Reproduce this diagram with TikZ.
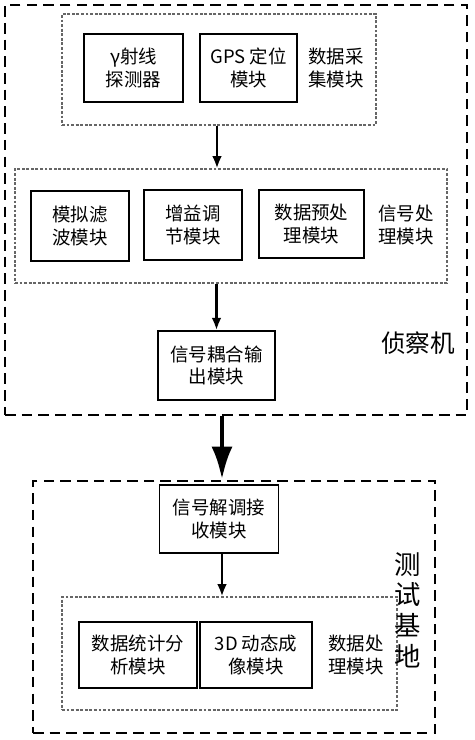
\documentclass[tikz,border=0pt]{standalone}
\usepackage{fontspec}
\setmainfont{Noto Sans CJK SC}
\usetikzlibrary{arrows.meta}

\tikzset{
    boxsize/.style 2 args={minimum width=#1*0.02cm, minimum height=#2*0.02cm, inner sep=0pt},
    module/.style={draw, line width=0.9pt, align=center, font=\fontsize{10.5}{13}\selectfont},
    group/.style={draw=black!60, line width=0.6pt, dash pattern=on 1.6pt off 1pt},
    region/.style={draw, line width=1.2pt, dash pattern=on 6pt off 3.5pt},
    grouptext/.style={align=center, font=\fontsize{10.5}{13}\selectfont},
    regiontext/.style={align=center, font=\fontsize{14}{17}\selectfont},
    flow/.style={line width=1.5pt, -{Latex[length=7pt,width=5.5pt]}},
    bigflow/.style={line width=2.8pt, -{Latex[length=19pt,width=12pt]}}
}

\begin{document}
\begin{tikzpicture}[x=0.02cm, y=-0.02cm]
    \useasboundingbox (0,0) rectangle (474,740);

    % reconnaissance aircraft
    \node[region, boxsize={462}{410}] (uav)  at (236,210) {};
    \node[group,  boxsize={314}{111}] (acq)  at (219,69.5) {};
    \node[module, boxsize={99}{68}]   (gamma) at (133.5,68) {γ射线\\探测器};
    \node[module, boxsize={97}{68}]   (gps)   at (248.5,68) {GPS 定位\\模块};
    \node[grouptext] (acqtext) at (336,68) {数据采\\集模块};

    \node[group,  boxsize={432}{114}] (proc) at (231,226) {};
    \node[module, boxsize={98}{70}]   (filt) at (80,226) {模拟滤\\波模块};
    \node[module, boxsize={98}{70}]   (gain) at (193,225) {增益调\\节模块};
    \node[module, boxsize={105}{68}]  (prep) at (311.5,224) {数据预处\\理模块};
    \node[grouptext] (proctext) at (406,225) {信号处\\理模块};

    \node[module, boxsize={117}{69}]  (coup) at (216.5,365.5) {信号耦合输\\出模块};
    \node[regiontext] (uavtext) at (418,343) {侦察机};

    % test base
    \node[region, boxsize={402}{252}] (base)  at (234,607) {};
    \node[module, boxsize={119}{68}]  (demod) at (219,519) {信号解调接\\收模块};
    \node[group,  boxsize={335}{113}] (dp)    at (229.5,653.5) {};
    \node[module, boxsize={118}{66}]  (stat)  at (138,655) {数据统计分\\析模块};
    \node[module, boxsize={112}{66}]  (img)   at (256,655) {3D 动态成\\像模块};
    \node[grouptext] (dptext) at (356,655) {数据处\\理模块};
    \node[regiontext, font=\fontsize{15}{17.5}\selectfont] (basetext) at (408,610) {测\\试\\基\\地};

    \draw[flow] (acq.south -| 217,0) -- (proc.north -| 217,0);
    \draw[flow] (proc.south -| coup.north) -- (coup.north);
    \draw[bigflow] (uav.south -| 222,0) -- (base.north -| 222,0);
    \draw[flow] (demod.south -| 222,0) -- (dp.north -| 222,0);
\end{tikzpicture}
\end{document}
